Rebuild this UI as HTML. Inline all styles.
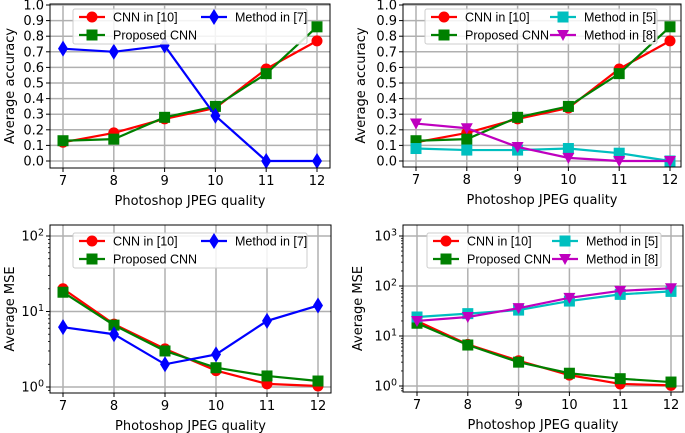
<!DOCTYPE html>
<html><head><meta charset="utf-8"><style>
html,body{margin:0;padding:0;background:#fff;}
svg{display:block;font-family:"DejaVu Sans","Liberation Sans",sans-serif;}
</style></head><body>
<svg id="fig" width="685" height="433" viewBox="0 0 685 433" xmlns="http://www.w3.org/2000/svg"></svg>
<script>
const xCats = [7, 8, 9, 10, 11, 12];
const accTicks = [0.0,0.1,0.2,0.3,0.4,0.5,0.6,0.7,0.8,0.9,1.0];
const accTickLabels = ["0.0","0.1","0.2","0.3","0.4","0.5","0.6","0.7","0.8","0.9","1.0"];
const accCnn10 = [0.12, 0.18, 0.27, 0.34, 0.59, 0.77];
const accProposed = [0.13, 0.14, 0.28, 0.35, 0.56, 0.86];
const accM7 = [0.72, 0.70, 0.74, 0.29, 0.0, 0.0];
const accM5 = [0.08, 0.07, 0.07, 0.08, 0.05, 0.0];
const accM8 = [0.24, 0.21, 0.09, 0.02, 0.0, 0.0];
const mseCnn10 = [20, 6.8, 3.2, 1.65, 1.1, 1.03];
const mseProposed = [18, 6.6, 3.0, 1.8, 1.4, 1.2];
const mseM7 = [6.2, 5.0, 2.0, 2.7, 7.5, 12];
const mseM5 = [24, 28, 33, 50, 68, 78];
const mseM8 = [20, 24, 36, 58, 80, 90];

const NS = "http://www.w3.org/2000/svg";
const svg = document.getElementById('fig');
function mk(tag, attrs, parent){const e=document.createElementNS(NS,tag);for(const k in attrs)e.setAttribute(k,attrs[k]);(parent||svg).appendChild(e);return e;}

function marker(g, type, x, y, color){
  let e;
  if(type==='o'){e=mk('circle',{cx:x,cy:y,r:5.5,fill:color},g);}
  else if(type==='s'){e=mk('rect',{x:x-5.5,y:y-5.5,width:11,height:11,fill:color},g);}
  else if(type==='d'){e=mk('polygon',{points:`${x},${y-8} ${x+5},${y} ${x},${y+8} ${x-5},${y}`,fill:color},g);}
  else {e=mk('polygon',{points:`${x-6},${y-5} ${x+6},${y-5} ${x},${y+6}`,fill:color},g);}
  return e;
}

function panel(cfg){
  const g = mk('g',{});
  
  
  const {L,R,T,B,x7,x12} = cfg;
  const xs = v => x7 + (v-7)*(x12-x7)/5;
  const ys = cfg.ys;
  xCats.forEach(c=>{const l=mk('line',{x1:xs(c),x2:xs(c),y1:T,y2:B,stroke:'#b0b0b0','stroke-width':1.5},g);
    });
  cfg.yticks.forEach(t=>{const l=mk('line',{x1:L,x2:R,y1:ys(t),y2:ys(t),stroke:'#b0b0b0','stroke-width':1.5},g);
    });
  if(cfg.minor){cfg.minor.forEach(v=>{const y=ys(v);if(y>T&&y<B)mk('line',{x1:L-2,x2:L,y1:y,y2:y,stroke:'#000','stroke-width':0.8},g);});}
  xCats.forEach(c=>{mk('line',{x1:xs(c),x2:xs(c),y1:B,y2:B+4,stroke:'#000'},g);
    const t=mk('text',{x:xs(c),y:B+17,'font-size':13,'text-anchor':'middle',fill:'#000'},g);t.textContent=c;
    });
  cfg.yticks.forEach((v,i)=>{mk('line',{x1:L-4,x2:L,y1:ys(v),y2:ys(v),stroke:'#000'},g);
    const t=mk('text',{x:L-6,y:ys(v)+4.5,'font-size':13,'text-anchor':'end',fill:'#000'},g);
    if(cfg.log){t.textContent='10';const s=mk('tspan',{dy:-5,'font-size':9.5},t);s.textContent=cfg.ylabels[i];}
    else t.textContent=cfg.ylabels[i];
    });
  cfg.series.forEach(s=>{
    const sg=mk('g',{},g);
    
    
    const pts=s.data.map((v,i)=>xs(xCats[i])+','+ys(v)).join(' ');
    mk('polyline',{points:pts,fill:'none',stroke:s.color,'stroke-width':2.2},sg);
    s.data.forEach((v,i)=>{const m=marker(sg,s.m,xs(xCats[i]),ys(v),s.color);
      });
  });
  const fr=mk('rect',{x:L,y:T,width:R-L,height:B-T,fill:'none',stroke:'#000','stroke-width':1},g);
  
  const xl=mk('text',{x:(L+R)/2,y:B+37,'font-size':13,'text-anchor':'middle',fill:'#000'},g);
  xl.textContent='Photoshop JPEG quality';
  
  const yl=mk('text',{x:0,y:0,'font-size':13,'text-anchor':'middle',fill:'#000',transform:`translate(${cfg.ylx},${(T+B)/2}) rotate(-90)`},g);
  yl.textContent=cfg.ytitle;
  
  const lg=mk('g',{},g);
  
  const [lx,ly,lw,lh]=cfg.legend;
  mk('rect',{x:lx,y:ly,width:lw,height:lh,fill:'#fff','fill-opacity':0.85,stroke:'#ccc',rx:2},lg);
  cfg.series.forEach((s,i)=>{
    const col=cfg.legendPos[i];
    const ex=lx+col[0], ey=ly+col[1];
    const eg=mk('g',{},lg);
    
    mk('line',{x1:ex,x2:ex+26,y1:ey,y2:ey,stroke:s.color,'stroke-width':2.2},eg);
    marker(eg,s.m,ex+13,ey,s.color);
    const t=mk('text',{x:ex+34,y:ey+4.5,'font-size':12.5,fill:'#000','font-family':'Liberation Sans, sans-serif'},eg);t.textContent=s.label;
  });
}

const linY=(y0,y1)=>v=>y0+(y1-y0)*v;
const logY=(p0,pDec)=>v=>p0-Math.log10(v)*pDec;
const minor2=[];for(let d=0;d<2;d++)for(let k=2;k<10;k++)minor2.push(k*Math.pow(10,d));
minor2.push(0.8,0.9);
const minor3=[];for(let d=0;d<3;d++)for(let k=2;k<10;k++)minor3.push(k*Math.pow(10,d));
minor3.push(0.8,0.9);

const sC={key:'cnn10',label:'CNN in [10]',color:'#ff0000',m:'o'};
const sP={key:'proposed',label:'Proposed CNN',color:'#008000',m:'s'};
const s7={key:'m7',label:'Method in [7]',color:'#0000ff',m:'d'};
const s5={key:'m5',label:'Method in [5]',color:'#00bfbf',m:'s'};
const s8={key:'m8',label:'Method in [8]',color:'#bf00bf',m:'v'};

panel({name:'accuracy-panel-left',L:50,R:330,T:4,B:168,x7:63,x12:317,ys:linY(161,5),
  yticks:accTicks,ylabels:accTickLabels,ytitle:'Average accuracy',ylx:14,
  legend:[73,9,234,35],legendPos:[[6,8],[6,26],[128,8]],
  series:[Object.assign({},sC,{data:accCnn10}),Object.assign({},sP,{data:accProposed}),Object.assign({},s7,{data:accM7})]});
panel({name:'accuracy-panel-right',L:403,R:681,T:4,B:167,x7:416,x12:670,ys:linY(161,5),
  yticks:accTicks,ylabels:accTickLabels,ytitle:'Average accuracy',ylx:365,
  legend:[425,9,232,35],legendPos:[[6,8],[6,26],[125,8],[125,26]],
  series:[Object.assign({},sC,{data:accCnn10}),Object.assign({},sP,{data:accProposed}),Object.assign({},s5,{data:accM5}),Object.assign({},s8,{data:accM8})]});
panel({name:'mse-panel-left',L:50,R:331,T:225,B:393,x7:63,x12:318,ys:logY(387,75.5),log:true,minor:minor2,
  yticks:[1,10,100],ylabels:['0','1','2'],ytitle:'Average MSE',ylx:14,
  legend:[73,233,234,35],legendPos:[[6,8],[6,26],[128,8]],
  series:[Object.assign({},sC,{data:mseCnn10}),Object.assign({},sP,{data:mseProposed}),Object.assign({},s7,{data:mseM7})]});
panel({name:'mse-panel-right',L:403,R:683,T:225,B:392,x7:417,x12:671,ys:logY(386,50),log:true,minor:minor3,
  yticks:[1,10,100,1000],ylabels:['0','1','2','3'],ytitle:'Average MSE',ylx:362,
  legend:[427,233,234,35],legendPos:[[6,8],[6,26],[125,8],[125,26]],
  series:[Object.assign({},sC,{data:mseCnn10}),Object.assign({},sP,{data:mseProposed}),Object.assign({},s5,{data:mseM5}),Object.assign({},s8,{data:mseM8})]});
</script>
</body></html>
